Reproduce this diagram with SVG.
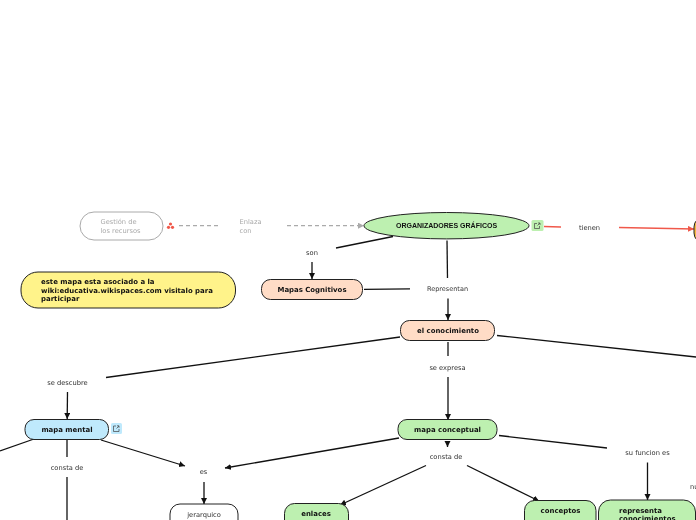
<svg xmlns="http://www.w3.org/2000/svg" width="696" height="520" viewBox="0 0 696 520">
<style>
text{font-family:"DejaVu Sans",Verdana,sans-serif;font-size:6.7px;fill:#333;filter:url(#gray)}
.b{font-weight:bold;fill:#111;font-size:6.95px}
.c{text-anchor:middle}
.n{stroke:#222;stroke-width:1}
.l{fill:none;stroke:#111;stroke-width:1.3}
.g{fill:none;stroke:#aaa;stroke-width:1.2;stroke-dasharray:4 3}
.r{fill:none;stroke:#f0584a;stroke-width:1.3}
.f{fill:#bdf0b0}
.p{fill:#ffdcc6}
.ic{fill:none;stroke:#444;stroke-width:.7}
</style>
<defs>
<filter id="gray" color-interpolation-filters="sRGB" x="-5%" y="-20%" width="110%" height="140%"><feOffset dx="0" dy="0"/></filter>
<marker id="a" markerUnits="userSpaceOnUse" markerWidth="7" markerHeight="7" refX="6" refY="3" orient="auto"><path d="M0 0L6 3L0 6Z" fill="#111"/></marker>
<marker id="ar" markerUnits="userSpaceOnUse" markerWidth="7" markerHeight="7" refX="6" refY="3" orient="auto"><path d="M0 0L6 3L0 6Z" fill="#f0584a"/></marker>
<marker id="ag" markerUnits="userSpaceOnUse" markerWidth="7" markerHeight="7" refX="6" refY="3" orient="auto"><path d="M0 0L6 3L0 6Z" fill="#aaa"/></marker>
</defs>
<rect width="696" height="520" fill="#fff"/>
<g id="connectors">
<path class="g" d="M179 225.700H218"/>
<path class="g" d="M287 225.700H364" marker-end="url(#ag)"/>
<path class="r" d="M544 226.500L561 227"/>
<path class="r" d="M619 227.500L694 229" marker-end="url(#ar)"/>
<path class="l" d="M393 236.500L336 248"/>
<path class="l" d="M312 262V279" marker-end="url(#a)"/>
<path class="l" d="M447 240.500L447.500 278"/>
<path class="l" d="M364 289.300L410 288.800"/>
<path class="l" d="M448 298.500V320" marker-end="url(#a)"/>
<path class="l" d="M400 337L106 377.500"/>
<path class="l" d="M67.500 392L67.200 419" marker-end="url(#a)"/>
<path class="l" d="M448 342V356"/>
<path class="l" d="M448 377V420" marker-end="url(#a)"/>
<path class="l" d="M497 335.500L696 357"/>
<path class="l" d="M34 439L0 451"/>
<path class="l" d="M67 440V457"/>
<path class="l" d="M67 477V520"/>
<path class="l" d="M101 440L185 466" marker-end="url(#a)"/>
<path class="l" d="M399 438L225 468" marker-end="url(#a)"/>
<path class="l" d="M204 482V504" marker-end="url(#a)"/>
<path class="l" d="M447.500 441V447" marker-end="url(#a)"/>
<path class="l" d="M426 465.500L340 505" marker-end="url(#a)"/>
<path class="l" d="M467 465.500L539 501" marker-end="url(#a)"/>
<path class="l" d="M499 435.500L607 448"/>
<path class="l" d="M647.500 462.500V500" marker-end="url(#a)"/>
</g>
<g id="gestion"><rect x="80" y="212" width="83" height="28" rx="14" fill="#fff" stroke="#aaa"/><text x="100.500" y="224" style="fill:#aaa">Gestión de</text><text x="100.500" y="233" style="fill:#aaa">los recursos</text>
<g fill="#f0584a"><circle cx="170.500" cy="224" r="1.600"/><circle cx="168.500" cy="227.300" r="1.600"/><circle cx="172.500" cy="227.300" r="1.600"/></g></g>
<g id="enlaza"><text x="239.500" y="224" style="fill:#aaa">Enlaza</text><text x="239.500" y="233" style="fill:#aaa">con</text></g>
<g id="organizadores"><ellipse class="n f" cx="446.500" cy="225.700" rx="82.500" ry="13.200"/><text class="b c" x="446.500" y="228" style="font-family:'Liberation Sans',Arial,sans-serif;font-size:7px">ORGANIZADORES GRÁFICOS</text>
<rect x="531.500" y="220" width="12" height="11" rx="1.500" fill="#bdf0b0"/><path class="ic" d="M537 223.500H534.500V228.500H539.500V226M537.500 225.500L540 223M538 223H540V225"/></g>
<g id="tienen"><text class="c" x="589.500" y="230">tienen</text></g>
<g id="cutoff-right"><rect x="694" y="217" width="40" height="26" rx="10" fill="#f5b942" stroke="#222"/></g>
<g id="son"><text class="c" x="312" y="255">son</text></g>
<g id="nota"><rect class="n" x="21" y="272" width="214.500" height="36" rx="17" fill="#fff38a"/><text class="b" x="41" y="284">este mapa esta asociado a la</text><text class="b" x="41" y="293">wiki:educativa.wikispaces.com visitalo para</text><text class="b" x="41" y="301">participar</text></g>
<g id="mapas-cognitivos"><rect class="n p" x="261.500" y="279.500" width="101" height="20" rx="9"/><text class="b c" x="312" y="292">Mapas Cognitivos</text></g>
<g id="representan"><text class="c" x="447.500" y="291" style="font-size:6.500px">Representan</text></g>
<g id="conocimiento"><rect class="n p" x="400.500" y="320.500" width="94" height="20" rx="9"/><text class="b c" x="448" y="333">el conocimiento</text></g>
<g id="se-descubre"><text class="c" x="67.500" y="385">se descubre</text></g>
<g id="se-expresa"><text class="c" x="447.500" y="370">se expresa</text></g>
<g id="mapa-mental"><rect class="n" x="25" y="419.500" width="83.500" height="20" rx="9" fill="#bfe9fc"/><text class="b c" x="67" y="432">mapa mental</text>
<rect x="111" y="423" width="11" height="11" rx="1.500" fill="#bfe9fc"/><path class="ic" d="M116 426H113.500V431.500H119V429M116.500 428.500L119 426M117 425.800H119V427.800"/></g>
<g id="mapa-conceptual"><rect class="n f" x="398" y="419.500" width="99" height="20" rx="9"/><text class="b c" x="447.500" y="432">mapa conceptual</text></g>
<g id="consta-de-1"><text class="c" x="67" y="470">consta de</text></g>
<g id="es"><text class="c" x="203.500" y="474">es</text></g>
<g id="consta-de-2"><text class="c" x="446" y="459">consta de</text></g>
<g id="su-funcion"><text class="c" x="647.500" y="455">su funcion es</text></g>
<g id="nu"><text x="690" y="489">nu</text></g>
<g id="jerarquico"><rect class="n" x="170" y="504" width="68" height="30" rx="10" fill="#fff"/><text class="c" x="204" y="517">jerarquico</text></g>
<g id="enlaces"><rect class="n f" x="284.500" y="503.500" width="64" height="30" rx="10"/><text class="b c" x="316" y="516">enlaces</text></g>
<g id="conceptos"><rect class="n f" x="524.500" y="500.500" width="71.500" height="30" rx="10"/><text class="b c" x="560.500" y="513">conceptos</text></g>
<g id="representa"><rect class="n f" x="598.500" y="500" width="97" height="40" rx="12"/><text class="b" x="619" y="513">representa</text><text class="b" x="619" y="521">conocimientos</text></g>
</svg>
